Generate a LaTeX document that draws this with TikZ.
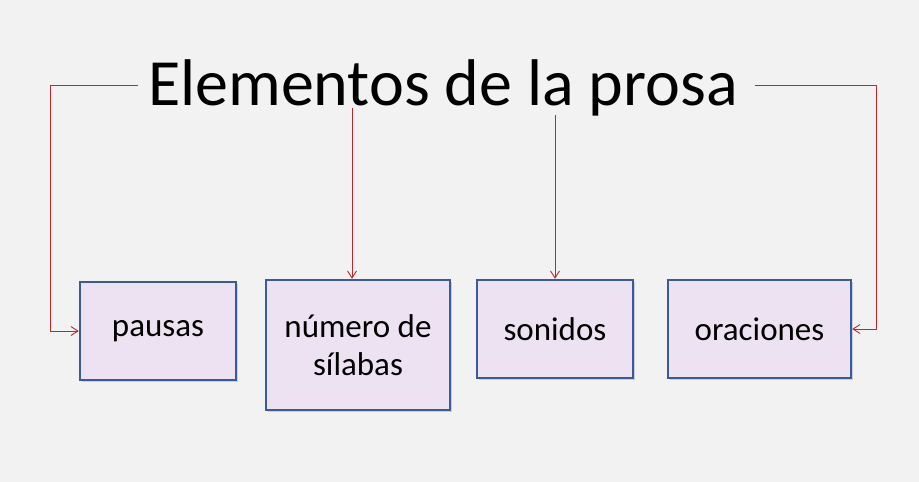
\documentclass[tikz,border=0pt]{standalone}
\usepackage{fontspec}
\setmainfont{Carlito}
\usetikzlibrary{arrows.meta,shadows}
\definecolor{bg}{RGB}{242,242,242}
\definecolor{boxfill}{RGB}{236,226,242}
\definecolor{boxline}{RGB}{60,90,150}
\definecolor{arr}{RGB}{190,40,40}
\begin{document}
\begin{tikzpicture}[x=1pt,y=-1pt,
  item/.style={draw=boxline,line width=2.5pt,fill=boxfill,font=\fontsize{33}{38}\selectfont,align=center,inner sep=0pt,
    drop shadow={shadow xshift=2pt,shadow yshift=-2pt,fill=boxline!50,opacity=0.5}},
  link/.style={draw=arr,line width=0.9pt,-{Straight Barb[length=7pt,width=9pt]}}]
\fill[bg] (0,0) rectangle (919,482);
\useasboundingbox (0,0) rectangle (919,482);
\node (t) [font=\fontsize{66}{72}\selectfont,inner sep=0pt] at (443,88) {Elementos de la prosa};
\node (a) [item,minimum width=156pt,minimum height=98pt] at (158,331) {pausas};
\node (b) [item,minimum width=184pt,minimum height=130pt] at (358,345) {número de\\sílabas};
\node (c) [item,minimum width=156pt,minimum height=98pt] at (555,329) {sonidos};
\node (d) [item,minimum width=183pt,minimum height=98pt] at (759.5,329) {oraciones};
\coordinate (tl) at (138,85);
\coordinate (tr) at (755,85);
\coordinate (tb) at (352,108);
\coordinate (tc) at (555,115);
\draw[link] (tl) -- (50,85) |- (a.west);
\draw[link] (tr) -- (876,85) |- (d.east);
\draw[link] (tb) -- (tb |- b.north);
\draw[link] (tc) -- (tc |- c.north);
\end{tikzpicture}
\end{document}
